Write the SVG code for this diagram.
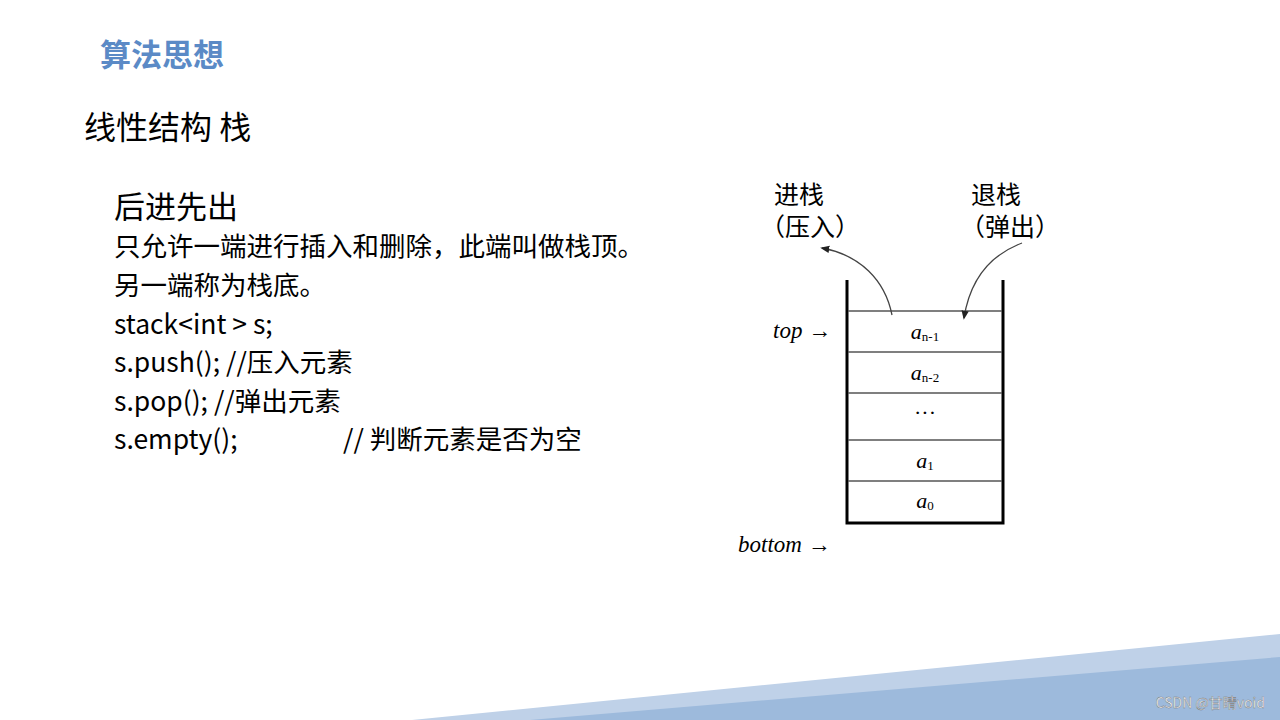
<svg xmlns="http://www.w3.org/2000/svg" width="1280" height="720" viewBox="0 0 1280 720">
<style>
.t{font-family:"Noto Sans CJK SC","Noto Sans",sans-serif;fill:#000}
.s{font-family:"Liberation Serif","Noto Sans CJK SC",serif;fill:#000}
.m{font-family:"Liberation Serif",serif;font-style:italic;font-size:22px;fill:#000;text-anchor:middle}
.sub{font-size:13px;font-style:normal}
.cell{stroke:#555;stroke-width:1.5}
.wall{stroke:#000;stroke-width:3;fill:none}
.arc{stroke:#444;stroke-width:1.3;fill:none}
</style>
<defs><marker id="ah" viewBox="0 0 10 10" refX="8" refY="5" markerWidth="7" markerHeight="7" orient="auto"><path d="M0,1 L10,5 L0,9 z" fill="#222"/></marker></defs>
<rect width="1280" height="720" fill="#fff"/>
<polygon points="412,720 1280,634 1280,720" fill="#bfd1e8"/>
<polygon points="530,720 1280,657 1280,720" fill="#9dbadc"/>
<text x="1265" y="708" text-anchor="end" font-family="Noto Sans CJK SC,sans-serif" font-size="14" fill="#fff" stroke="#777" stroke-width="0.4">CSDN @甘晴void</text>
<g id="title"><text x="100" y="66" class="t" font-size="31" font-weight="bold" style="fill:#5b8ac6">算法思想</text></g>
<g id="heading"><text x="84" y="139" class="t" font-size="32">线性结构 栈</text></g>
<g id="body" class="t" font-size="26.5" xml:space="preserve">
<text x="114" y="218" font-size="31">后进先出</text>
<text x="114" y="256">只允许一端进行插入和删除，此端叫做栈顶。</text>
<text x="114" y="295">另一端称为栈底。</text>
<text x="114" y="334">stack&lt;int &gt; s;</text>
<text x="114" y="372">s.push(); //压入元素</text>
<text x="114" y="411">s.pop();   //弹出元素</text>
<text x="114" y="449">s.empty();</text>
<text x="343" y="449">// 判断元素是否为空</text>
</g>
<g id="stack">
<path class="wall" d="M847,280 V523 H1003 V280"/>
<line class="cell" x1="848" y1="311" x2="1002" y2="311"/>
<line class="cell" x1="848" y1="352" x2="1002" y2="352"/>
<line class="cell" x1="848" y1="393" x2="1002" y2="393"/>
<line class="cell" x1="848" y1="440" x2="1002" y2="440"/>
<line class="cell" x1="848" y1="481" x2="1002" y2="481"/>
<text class="m" x="925" y="339">a<tspan class="sub" dy="2">n-1</tspan></text>
<text class="m" x="925" y="380">a<tspan class="sub" dy="2">n-2</tspan></text>
<text class="m" x="925" y="420" style="font-style:normal">···</text>
<text class="m" x="925" y="468">a<tspan class="sub" dy="2">1</tspan></text>
<text class="m" x="925" y="508">a<tspan class="sub" dy="2">0</tspan></text>
</g>
<g id="labels" class="s" font-size="25">
<text x="774" y="204">进栈</text>
<text x="760" y="236">（压入）</text>
<text x="971" y="204">退栈</text>
<text x="960" y="236">（弹出）</text>
<text x="773" y="338" font-style="italic" font-size="23">top →</text>
<text x="738" y="552" font-style="italic" font-size="23">bottom →</text>
</g>
<g id="connectors">
<path class="arc" d="M892,315 C885,280 860,255 822,248" marker-end="url(#ah)"/>
<path class="arc" d="M1022,243 C990,255 970,280 964,318" marker-end="url(#ah)"/>
</g>
</svg>
